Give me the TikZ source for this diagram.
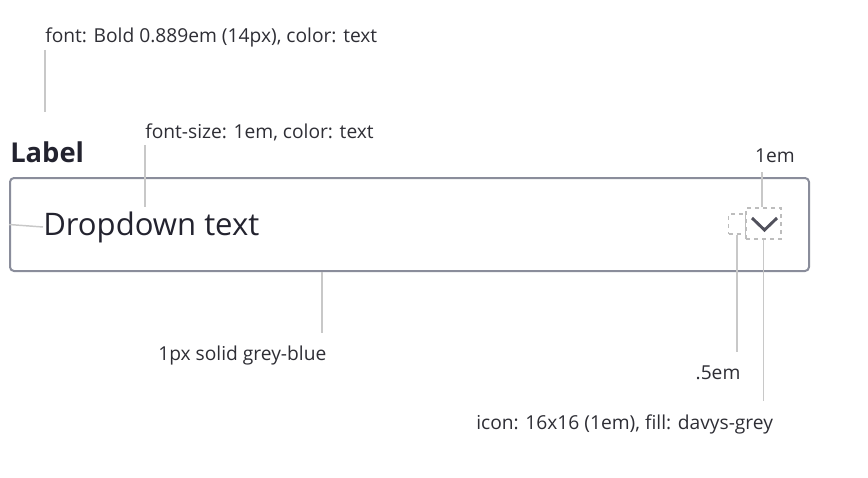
\documentclass[tikz,border=0pt]{standalone}
\usepackage{fontspec}
\setmainfont{Open Sans}
\usepackage{tikz}
\usepackage{xcolor}

\definecolor{textcol}{HTML}{23232F}
\definecolor{notecol}{HTML}{2E2E35}
\definecolor{leadcol}{HTML}{C8C8C8}
\definecolor{greyblue}{HTML}{8A8D9B}
\definecolor{dashcol}{HTML}{BDBDBD}
\definecolor{davysgrey}{HTML}{51515C}

\begin{document}
\begin{tikzpicture}[x=0.75pt, y=-0.75pt,
  note/.style={font=\fontsize{14.4}{17}\selectfont, text=notecol, inner sep=0pt},
  leader/.style={draw=leadcol, line width=1.1pt},
  dashbox/.style={draw=dashcol, dashed, line width=0.9pt, inner sep=0pt}]
\useasboundingbox (0,0) rectangle (868,478);

%Notes
\node[note, anchor=west] (fontnote) at (45,37) {font: Bold 0.889em (14px), color: text};
\node[note, anchor=west] (sizenote) at (145,132) {font-size: 1em, color: text};
\node[note, anchor=west] (bordernote) at (158,356) {1px solid grey-blue};
\node[note] (emnote) at (775,156) {1em};
\node[note] (halfnote) at (718,373) {.5em};
\node[note, anchor=west] (iconnote) at (476,424) {icon: 16x16 (1em), fill: davys-grey};

%Dropdown
\node[font=\fontsize{20.5}{22}\selectfont\bfseries, text=textcol, anchor=west, inner sep=0pt] (label) at (10,152) {Label};
\node[draw=greyblue, line width=1.5pt, rounded corners=3pt, minimum width=599.25pt, minimum height=69.75pt, inner sep=0pt] (box) at (409.5,224.5) {};
\node[font=\fontsize{23.3}{26}\selectfont, text=textcol, anchor=west, inner sep=0pt] (ddtext) at (43,227) {Dropdown text};

%Icon
\node[dashbox, minimum width=12.75pt, minimum height=15pt] (gap) at (737,224) {};
\node[dashbox, minimum width=26.25pt, minimum height=23.25pt] (icon) at (763.5,223.5) {};
\draw[davysgrey, line width=2.2pt] (752,218) -- (764.5,230) -- (777,218);

%Leaders
\coordinate (fontend) at (45,112);
\coordinate (sizeend) at (145,207);
\draw[leader] (fontend |- 0,50) -- (fontend);
\draw[leader] (sizeend |- 0,145) -- (sizeend);
\draw[leader] (box.west) -- (ddtext.west);
\draw[leader] (box.south -| 322,0) -- (322,333);
\draw[leader] (icon.north -| 762,0) -- (762,172);
\draw[leader] (gap.south) -- (gap.south |- 0,352);
\draw[leader] (icon.south) -- (icon.south |- 0,401);
\end{tikzpicture}
\end{document}
